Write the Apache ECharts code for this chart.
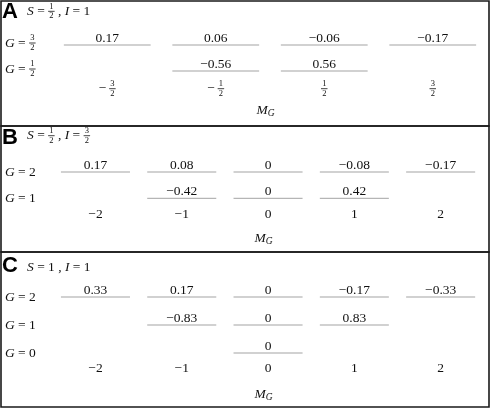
<!DOCTYPE html>
<html><head><meta charset="utf-8">
<script src="https://cdn.jsdelivr.net/npm/echarts@6/dist/echarts.min.js"></script>
<style>html,body{margin:0;padding:0;background:#fff}#c{width:491px;height:409px}</style>
</head><body><div id="c"></div>
<script>
// ---------------- data ----------------
const titleLetters = ['A', 'B', 'C'];
const titleS = ['1/2', '1/2', '1'];
const titleI = ['1', '3/2', '1'];

const mgA = ['-3/2', '-1/2', '1/2', '3/2'];
const gA = ['1/2', '3/2'];                 // rows, bottom to top
const aG32 = [0.17, 0.06, -0.06, -0.17];
const aG12 = [null, -0.56, 0.56, null];

const mgB = ['-2', '-1', '0', '1', '2'];
const gB = ['1', '2'];
const bG2 = [0.17, 0.08, 0, -0.08, -0.17];
const bG1 = [null, -0.42, 0, 0.42, null];

const mgC = ['-2', '-1', '0', '1', '2'];
const gC = ['0', '1', '2'];
const cG2 = [0.33, 0.17, 0, -0.17, -0.33];
const cG1 = [null, -0.83, 0, 0.83, null];
const cG0 = [null, null, 0, null, null];

// ---------------- helpers ----------------
const SERIF = '"Liberation Serif", "DejaVu Serif", serif';
const FS = 13.5, NFS = 8.5, NLH = 7, BARW = 6.5, MIDLH = 2.5;
const ctx = document.createElement('canvas').getContext('2d');
function tw(t, italic, size) {
  ctx.font = (italic ? 'italic ' : '') + size + 'px ' + SERIF;
  return ctx.measureText(t).width;
}
const base = { fontFamily: SERIF, fontWeight: 'normal', color: '#111' };
const rich = {
  mi: Object.assign({}, base, { fontStyle: 'italic', fontSize: FS, lineHeight: 15 }),
  mr: Object.assign({}, base, { fontSize: FS, lineHeight: 15 }),
  fi: Object.assign({}, base, { fontStyle: 'italic', fontSize: FS, lineHeight: MIDLH }),
  fr: Object.assign({}, base, { fontSize: FS, lineHeight: MIDLH }),
  n: Object.assign({}, base, { fontSize: NFS, lineHeight: NLH, width: BARW, align: 'center' }),
  bar: { width: BARW, height: 0.8, lineHeight: MIDLH, backgroundColor: '#111' },
  L: { fontFamily: '"Liberation Sans", Arial, sans-serif', fontWeight: 'bold', fontSize: 22, lineHeight: 22, color: '#000' },
  sub: Object.assign({}, base, { fontStyle: 'italic', fontSize: 9.5, lineHeight: 15, padding: [6, 0, 0, 0] })
};
function pad(w) {
  const name = 'p' + Math.round(w * 10);
  if (!rich[name]) rich[name] = { width: Math.max(0.1, w), height: 1, lineHeight: NLH };
  return name;
}
// tokens: ['i', text] italic, ['r', text] roman, ['f', num, den] fraction
function mathRich(tokens) {
  const hasFrac = tokens.some(t => t[0] === 'f');
  if (!hasFrac) return tokens.map(t => '{' + (t[0] === 'i' ? 'mi' : 'mr') + '|' + t[1] + '}').join('');
  let top = '', mid = '', bot = '', acc = 0;
  tokens.forEach(t => {
    if (t[0] === 'f') {
      if (acc > 0) { const p = pad(acc); top += '{' + p + '|}'; bot += '{' + p + '|}'; }
      top += '{n|' + t[1] + '}';
      bot += '{n|' + t[2] + '}';
      mid += '{bar|}';
      acc = 0;
    } else {
      mid += '{' + (t[0] === 'i' ? 'fi' : 'fr') + '|' + t[1] + '}';
      acc += tw(t[1], t[0] === 'i', FS);
    }
  });
  if (acc > 0) { const p = pad(acc); top += '{' + p + '|}'; bot += '{' + p + '|}'; }
  return top + '\n' + mid + '\n' + bot;
}
function numTokens(s) {
  const neg = s.startsWith('-');
  const a = neg ? s.slice(1) : s;
  const out = [];
  if (a.includes('/')) {
    const [n, d] = a.split('/');
    if (neg) out.push(['r', '\u2212\u2009']);
    out.push(['f', n, d]);
  } else {
    out.push(['r', (neg ? '\u2212' : '') + a]);
  }
  return out;
}
function fmtVal(v) {
  if (v === 0) return '0';
  return (v < 0 ? '\u2212' : '') + Math.abs(v).toFixed(2);
}
function titleText(i) {
  const t = [['i', 'S'], ['r', ' = ']].concat(numTokens(titleS[i]))
    .concat([['r', ' , '], ['i', 'I'], ['r', ' = ']]).concat(numTokens(titleI[i]));
  return mathRich(t);
}
function gLabel(v) { return mathRich([['i', 'G'], ['r', ' = ']].concat(numTokens(v))); }
function mgLabel(v) { return mathRich(numTokens(v)); }

function levels(rows) {
  const d = [];
  rows.forEach((vals, r) => vals.forEach((v, c) => { if (v !== null) d.push([c, r, v]); }));
  return d;
}
function renderLevel(params, api) {
  const c = api.coord([api.value(0), api.value(1)]);
  const w = api.size([1, 0])[0] * 0.8;
  const v = api.value(2);
  return {
    type: 'group', children: [
      { type: 'line', shape: { x1: c[0] - w / 2, y1: c[1], x2: c[0] + w / 2, y2: c[1] },
        style: { stroke: '#a3a3a3', lineWidth: 1 } },
      { type: 'text', x: c[0], y: c[1] - 6.5,
        style: { text: fmtVal(v), align: 'center', verticalAlign: 'middle',
                 font: FS + 'px ' + SERIF, fill: '#111' } }
    ]
  };
}

// ---------------- panels ----------------
const panels = [
  { grid: { left: 53, top: 45, width: 434, height: 26 }, mg: mgA, g: gA, rows: [aG12, aG32],
    lblMargin: 9.5, nameGap: 32, frame: [1, 1, 488, 125], tLetter: 1, tMath: 3, gPad: [0, 0, 4, 0] },
  { grid: { left: 52.3, top: 172, width: 431.5, height: 26.3 }, mg: mgB, g: gB, rows: [bG1, bG2],
    lblMargin: 8.3, nameGap: 33, frame: [1, 126, 488, 126], tLetter: 126.5, tMath: 127.5, gPad: [0, 0, 0, 0] },
  { grid: { left: 52.3, top: 297, width: 431.5, height: 56 }, mg: mgC, g: gC, rows: [cG0, cG1, cG2],
    lblMargin: 8.3, nameGap: 34, frame: [1, 252, 488, 155], tLetter: 254.5, tMath: 259.5, gPad: [0, 0, 0, 0] }
];

// precompute all label strings (registers pad styles before setOption)
panels.forEach((p, i) => {
  p.xLabels = {}; p.mg.forEach(v => { p.xLabels[v] = mgLabel(v); });
  p.yLabels = {}; p.g.forEach(v => { p.yLabels[v] = gLabel(v); });
  p.title = titleText(i);
});

const option = {
  animation: false,
  backgroundColor: '#fff',
  grid: [], xAxis: [], yAxis: [], series: [], title: [], graphic: []
};
panels.forEach((p, i) => {
  option.grid.push(Object.assign({ containLabel: false, outerBoundsMode: 'none' }, p.grid));
  option.xAxis.push({
    type: 'category', gridIndex: i, data: p.mg, boundaryGap: true,
    axisLine: { show: false }, axisTick: { show: false }, splitLine: { show: false },
    axisLabel: { interval: 0, margin: p.lblMargin, formatter: v => p.xLabels[v], rich: rich, color: '#111' },
    name: '{mi|M}{sub|G}', nameLocation: 'middle', nameGap: p.nameGap,
    nameTextStyle: { rich: rich, padding: [0, 9, 0, 0] }
  });
  option.yAxis.push({
    type: 'category', gridIndex: i, data: p.g, boundaryGap: false,
    axisLine: { show: false }, axisTick: { show: false }, splitLine: { show: false },
    axisLabel: { interval: 0, margin: p.grid.left - 5, align: 'left', formatter: v => p.yLabels[v], rich: rich,
                 padding: p.gPad, color: '#111' }
  });
  option.series.push({
    type: 'custom', xAxisIndex: i, yAxisIndex: i, data: levels(p.rows), renderItem: renderLevel,
    clip: false, silent: true
  });
  option.title.push({ text: '{L|' + titleLetters[i] + '}', left: 2, top: p.tLetter, padding: 0,
    textStyle: { rich: rich } });
  option.title.push({ text: p.title, left: 27, top: p.tMath, padding: 0, textAlign: 'left',
    textStyle: { rich: rich, fontWeight: 'normal' } });
  option.graphic.push({ type: 'rect', shape: { x: p.frame[0], y: p.frame[1], width: p.frame[2], height: p.frame[3] },
    style: { fill: 'none', stroke: '#1a1a1a', lineWidth: 1.6 }, silent: true });
});

const chart = echarts.init(document.getElementById('c'), null, { renderer: 'canvas' });
chart.setOption(option);
</script>
</body></html>
